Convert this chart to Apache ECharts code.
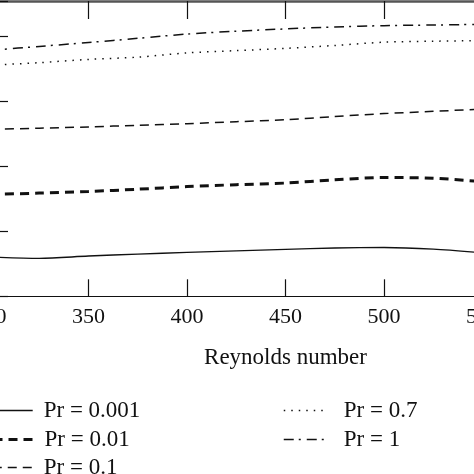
<!DOCTYPE html>
<html>
<head>
<meta charset="utf-8">
<title>Reynolds number</title>
<script src="https://cdn.jsdelivr.net/npm/echarts@6/dist/echarts.min.js"></script>
<style>
html,body{margin:0;padding:0;background:#fff;}
#main{width:474px;height:474px;}
</style>
</head>
<body>
<div id="main"></div>
<script>
// Reynolds number
var reynolds = [300, 325, 350, 375, 400, 425, 450, 475, 500, 525, 550];
// curves, one per Prandtl number
var pr0001 = [0.605, 0.585, 0.62, 0.65, 0.677, 0.70, 0.723, 0.745, 0.752, 0.727, 0.67];
var pr001  = [1.57, 1.59, 1.615, 1.65, 1.69, 1.72, 1.745, 1.795, 1.83, 1.82, 1.765];
var pr01   = [2.57, 2.59, 2.61, 2.635, 2.66, 2.69, 2.72, 2.77, 2.815, 2.85, 2.885];
var pr07   = [3.56, 3.60, 3.65, 3.685, 3.75, 3.785, 3.82, 3.865, 3.915, 3.93, 3.94];
var pr1    = [3.79, 3.85, 3.91, 3.975, 4.04, 4.085, 4.12, 4.15, 4.17, 4.18, 4.19];
var names  = ['Pr = 0.001', 'Pr = 0.01', 'Pr = 0.1', 'Pr = 0.7', 'Pr = 1'];

function pairs(ys) {
  return reynolds.map(function (x, i) { return [x, ys[i]]; });
}

var font = '"Liberation Serif", "DejaVu Serif", serif';

function line(name, ys, width, type) {
  return {
    name: name,
    type: 'line',
    data: pairs(ys),
    smooth: 0.3,
    symbol: 'none',
    lineStyle: { color: '#111', width: width, type: type },
    itemStyle: { color: '#111' }
  };
}

// one legend per entry: two columns
function legendItem(name, left, top, gap, width) {
  return {
    data: [name],
    left: left,
    top: top,
    padding: 0,
    itemWidth: 40,
    itemHeight: 14,
    itemStyle: { opacity: 0 },
    lineStyle: { width: width },
    textStyle: { fontFamily: font, fontSize: 23, color: '#111', lineHeight: 16, padding: [0, 0, 0, gap] }
  };
}

var myChart = echarts.init(document.getElementById('main'));
var option = {
  animation: false,
  backgroundColor: '#fff',
  grid: { left: -10, right: -107, top: 1, bottom: 177.7, containLabel: false, outerBoundsMode: 'none' },
  xAxis: [{
    type: 'value',
    min: 300,
    max: 600,
    interval: 50,
    position: 'bottom',
    name: 'Reynolds number',
    nameLocation: 'middle',
    nameGap: 50,
    nameTextStyle: { fontFamily: font, fontSize: 23, color: '#111' },
    axisLine: { lineStyle: { color: '#111', width: 1.2 } },
    axisTick: { inside: true, length: 17, lineStyle: { color: '#111', width: 1.2 } },
    axisLabel: { fontFamily: font, fontSize: 22, color: '#111', margin: 10 },
    splitLine: { show: false }
  }, {
    type: 'value',
    min: 300,
    max: 600,
    interval: 50,
    position: 'top',
    axisLine: { lineStyle: { color: '#555', width: 2.5 } },
    axisTick: { inside: true, length: 18, lineStyle: { color: '#111', width: 1.2 } },
    axisLabel: { show: false },
    splitLine: { show: false }
  }],
  yAxis: {
    type: 'value',
    min: 0,
    max: 4.55,
    interval: 1,
    axisLine: { show: true, lineStyle: { color: '#111' } },
    axisTick: { inside: true, length: 18, lineStyle: { color: '#111', width: 1.2 } },
    axisLabel: { show: false },
    splitLine: { show: false }
  },
  legend: [
    legendItem(names[0], -8, 399, 6, 1.4),
    legendItem(names[1], -8, 428, 6, 3),
    legendItem(names[2], -8, 456, 6, 1.5),
    legendItem(names[3], 283, 399, 15, 1.5),
    legendItem(names[4], 283, 428, 15, 1.5)
  ],
  series: [
    line(names[0], pr0001, 1.4, 'solid'),
    line(names[1], pr001, 3, [9, 6]),
    line(names[2], pr01, 1.5, [9, 6]),
    line(names[3], pr07, 1.5, [1.5, 6]),
    line(names[4], pr1, 1.5, [10, 5, 2, 6])
  ]
};
myChart.setOption(option);
</script>
</body>
</html>
